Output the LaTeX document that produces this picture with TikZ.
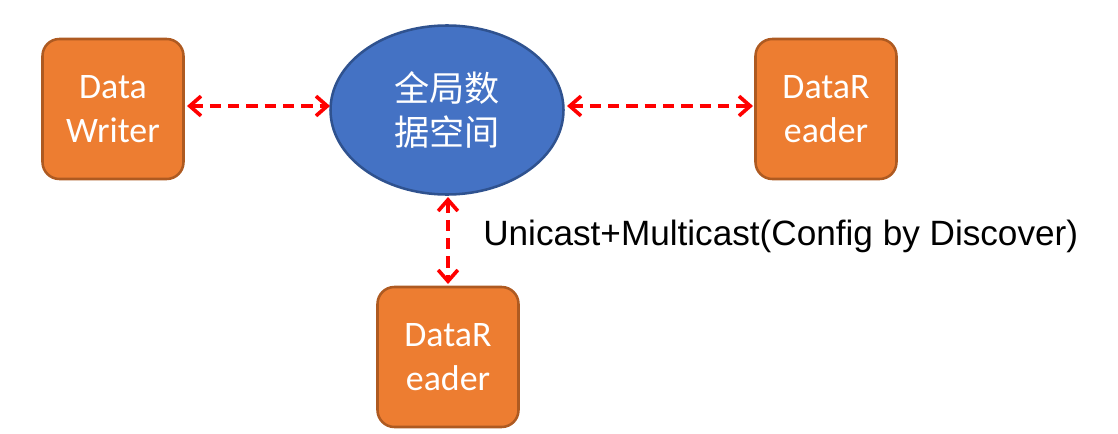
\documentclass[tikz,border=0pt]{standalone}
\usepackage{fontspec}
\setmainfont{Carlito}
\newfontfamily\cjk{Noto Sans CJK SC}
\newfontfamily\lsans{Liberation Sans}
\usetikzlibrary{arrows.meta,shapes.geometric}
\definecolor{org}{HTML}{ED7D31}
\definecolor{orgb}{HTML}{AE5A21}
\definecolor{blu}{HTML}{4472C4}
\definecolor{blub}{HTML}{2F528F}
\begin{document}
\begin{tikzpicture}[x=0.025cm,y=-0.025cm,
 box/.style={draw=orgb,fill=org,line width=1.8pt,rounded corners=12pt,minimum width=141*0.025cm,minimum height=140*0.025cm,text=white,align=center,font=\fontsize{25.5}{31}\selectfont},
 link/.style={red,line width=2.6pt,dash pattern=on 8pt off 5pt,{Straight Barb[length=8pt,width=14pt]}-{Straight Barb[length=8pt,width=14pt]}}]
\useasboundingbox (0,0) rectangle (1118,434);
\node[box] (w) at (113,109) {Data\\Writer};
\node[ellipse,draw=blub,fill=blu,line width=1.8pt,minimum width=233*0.025cm,minimum height=169*0.025cm,text=white,align=center,font=\cjk\fontsize{25}{31}\selectfont] (g) at (447,110) {全局数\\据空间};
\node[box] (r1) at (826,109) {DataR\\eader};
\node[box] (r2) at (448,357) {DataR\\eader};
\coordinate (a1) at (187,106); \coordinate (a2) at (330,106);
\coordinate (b1) at (567,106); \coordinate (b2) at (753,106);
\coordinate (c1) at (448,197); \coordinate (c2) at (448,284);
\draw[link] (a1) -- (a2);
\draw[link] (b1) -- (b2);
\draw[link] (c1) -- (c2);
\node[anchor=west,font=\lsans\fontsize{25}{30}\selectfont,inner sep=0] (l) at (483,236) {Unicast+Multicast(Config by Discover)};
\end{tikzpicture}
\end{document}
